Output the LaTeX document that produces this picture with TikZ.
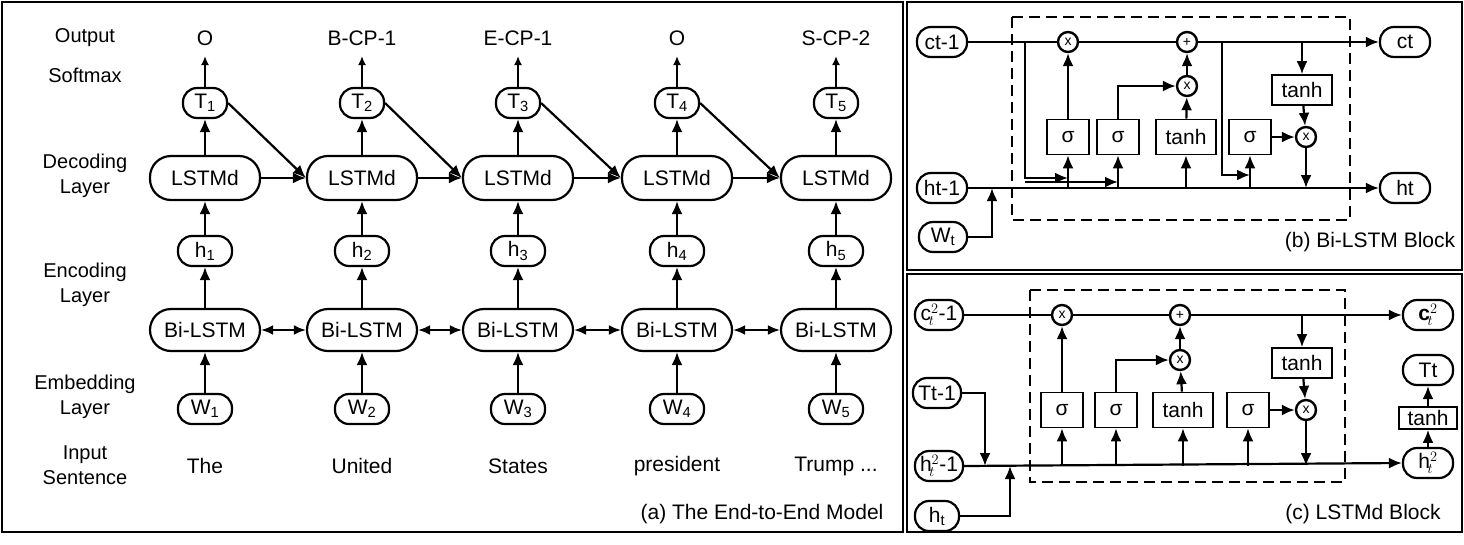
\documentclass[tikz,border=0pt]{standalone}
\usepackage{fontspec}
\setmainfont{Liberation Sans}
\usetikzlibrary{arrows.meta}
\newcommand\trumpword{Trump ...}
\begin{document}
\begin{tikzpicture}[x=1pt,y=-1pt,line width=2.2pt,
  every node/.style={font=\fontsize{21}{24}\selectfont},
  arr/.style={-{Latex[length=13pt,width=11pt]}},
  darr/.style={{Latex[length=12pt,width=10pt]}-{Latex[length=12pt,width=10pt]}},
  pill/.style={draw,rounded corners=14pt,minimum height=30pt,inner sep=2pt},
  big/.style={draw,rounded corners=21pt,minimum width=110pt,minimum height=44pt},
  box/.style={draw,line width=1.6pt,minimum height=35pt,minimum width=42pt,inner sep=2pt},
  op/.style={draw,circle,line width=2.4pt,minimum size=20pt,inner sep=0pt,font=\fontsize{14}{14}\selectfont},
  lab/.style={align=center,font=\fontsize{20}{25}\selectfont}]
\useasboundingbox (0,0) rectangle (1464,544);
\draw[line width=1.8pt] (2,2) rectangle (903,532);
\draw[line width=1.8pt] (907,2) rectangle (1462,270);
\draw[line width=1.8pt] (907,274) rectangle (1462,532);
% panel a labels
\node[lab] at (85,38) {Output};
\node[lab] at (85,75) {Softmax};
\node[lab] at (85,176) {Decoding\\Layer};
\node[lab] at (85,285) {Encoding\\Layer};
\node[lab] at (85,397) {Embedding\\Layer};
\node[lab] at (85,465) {Input\\Sentence};
\foreach \i/\x/\o/\w in {1/205/O/The,2/362/B-CP-1/United,3/518/E-CP-1/States,4/677/O/president,5/836/S-CP-2/\trumpword}{
  \node (o\i) at (\x,38) {\o};
  \node[pill,minimum width=44pt] (T\i) at (\x,103) {T\textsubscript{\i}};
  \node[big] (L\i) at (\x,178) {LSTMd};
  \node[pill,minimum width=54pt] (h\i) at (\x,251) {h\textsubscript{\i}};
  \node[big,minimum height=42pt] (B\i) at (\x,330) {Bi-LSTM};
  \node[pill,minimum width=54pt] (W\i) at (\x,409) {W\textsubscript{\i}};
  \node (s\i) at (\x,466) {\w};
  \coordinate (t\i) at (\x,56);
  \draw[-{Latex[length=9pt,width=8pt]}] (T\i) -- (t\i);
  \draw[arr] (L\i) -- (T\i);
  \draw[arr] (h\i) -- (L\i);
  \draw[arr] (B\i) -- (h\i);
  \draw[arr] (W\i) -- (B\i);
}
\foreach \i/\j in {1/2,2/3,3/4,4/5}{
  \draw[arr] (T\i.east) -- (L\j.west);
  \draw[arr] (L\i.east) -- (L\j.west);
  \draw[darr] (B\i) -- (B\j);
}
\node at (762,514) {(a) The End-to-End Model};
% panel b
\draw[line width=1.6pt,dash pattern=on 11pt off 6pt] (1012,17) rectangle (1350,220);
\node[pill,minimum width=50pt] (bc0) at (942,42) {ct-1};
\node[pill,minimum width=50pt] (bc1) at (1405,42) {ct};
\node[pill,minimum width=50pt] (bh0) at (942,188) {ht-1};
\node[pill,minimum width=50pt] (bh1) at (1405,188) {ht};
\node[pill,minimum width=48pt] (bw) at (943,237) {W\textsubscript{t}};
\node[op] (bx1) at (1068,42) {x};
\node[op] (bp) at (1187,42) {+};
\node[op] (bx2) at (1187,86) {x};
\node[op] (bx3) at (1306,137) {x};
\node[box] (bs1) at (1068,137) {σ};
\node[box] (bs2) at (1118,137) {σ};
\node[box,minimum width=60pt] (bt) at (1186,137) {tanh};
\node[box] (bs3) at (1250,137) {σ};
\node[box,minimum width=60pt,minimum height=30pt] (bt2) at (1302,90) {tanh};
\draw[arr] (bc0) -- (bx1) -- (bp) -- (bc1);
\draw[arr] (bh0) -- (bh1);
\coordinate (bwj) at (992,188);
\draw[arr] (bw.east) -| (bwj);
\draw[arr] (bs1) -- (bx1);
\draw[arr] (bx2) -- (bp);
\draw[arr] (bt) -- (bx2);
\draw[arr] (bs2.north) |- (bx2);
\draw[arr] (1302,42) -- (bt2);
\draw[arr] (bt2) -- (bx3);
\draw[arr] (bs3) -- (bx3);
\draw[arr] (bx3) -- (1306,188);
\foreach \n in {bs1,bs2,bt,bs3}{\draw[arr] (\n.south |- 0,188) -- (\n.south);}
\draw[arr] (1025,42) -- (1025,178) -- (1068,178);
\draw[arr] (1025,182) -- (1118,182);
\draw[arr] (1222,42) -- (1222,175) -- (1250,175);
\node at (1370,242) {(b) Bi-LSTM Block};
% panel c
\draw[line width=1.6pt,dash pattern=on 11pt off 6pt] (1030,290) rectangle (1345,482);
\node[pill,minimum width=48pt] (cc0) at (939,315) {c$^{2}_{\!t}$-1};
\node[pill,minimum width=50pt] (cc1) at (1428,315) {\textbf{c}$^{2}_{\!t}$};
\node[pill,minimum width=48pt] (cT0) at (937,393) {Tt-1};
\node[pill,minimum width=48pt] (ch0) at (939,466) {h$^{2}_{\!t}$-1};
\node[pill,minimum width=44pt] (chh) at (937,516) {h\textsubscript{t}};
\node[pill,minimum width=50pt] (ch1) at (1428,463) {h$^{2}_{\!t}$};
\node[box,minimum width=58pt,minimum height=22pt] (cto) at (1428,418) {tanh};
\node[pill,minimum width=50pt] (cTt) at (1428,370) {Tt};
\node[op] (cx1) at (1062,315) {x};
\node[op] (cp) at (1180,315) {+};
\node[op] (cx2) at (1180,360) {x};
\node[op] (cx3) at (1306,410) {x};
\node[box] (cs1) at (1062,410) {σ};
\node[box] (cs2) at (1116,410) {σ};
\node[box,minimum width=60pt] (ct) at (1183,410) {tanh};
\node[box] (cs3) at (1248,410) {σ};
\node[box,minimum width=60pt,minimum height=30pt] (ct2) at (1302,363) {tanh};
\draw[arr] (cc0) -- (cx1) -- (cp) -- (cc1);
\draw[arr] (ch0.east) -- (ch1.west);
\draw[arr] (ch1) -- (cto);
\draw[arr] (cto) -- (cTt);
\coordinate (cTj) at (985,466);
\coordinate (chj) at (1010,466);
\draw[arr] (cT0.east) -| (cTj);
\draw[arr] (chh.east) -| (chj);
\draw[arr] (cs1) -- (cx1);
\draw[arr] (cx2) -- (cp);
\draw[arr] (ct) -- (cx2);
\draw[arr] (cs2.north) |- (cx2);
\draw[arr] (1302,315) -- (ct2);
\draw[arr] (ct2) -- (cx3);
\draw[arr] (cs3) -- (cx3);
\draw[arr] (cx3) -- (1306,466);
\foreach \n in {cs1,cs2,ct,cs3}{\draw[arr] (\n.south |- 0,466) -- (\n.south);}
\node at (1363,514) {(c) LSTMd Block};
\end{tikzpicture}
\end{document}
